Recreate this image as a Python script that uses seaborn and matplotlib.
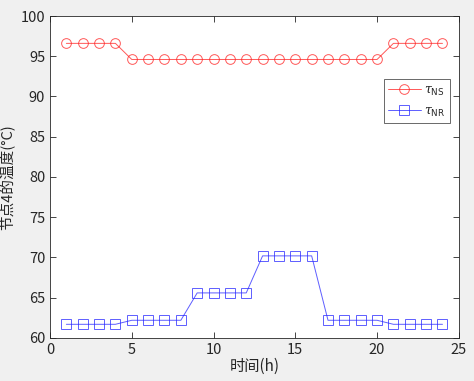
import numpy as np
import pandas as pd
import matplotlib
matplotlib.use('Agg')
import matplotlib.pyplot as plt
import seaborn as sns

# data
hours = list(range(1, 25))
tau_ns = [96.6, 96.6, 96.6, 96.6, 94.6, 94.6, 94.6, 94.6, 94.6, 94.6, 94.6, 94.6,
          94.6, 94.6, 94.6, 94.6, 94.6, 94.6, 94.6, 94.6, 96.6, 96.6, 96.6, 96.6]
tau_nr = [61.7, 61.7, 61.7, 61.7, 62.2, 62.2, 62.2, 62.2, 65.6, 65.6, 65.6, 65.6,
          70.2, 70.2, 70.2, 70.2, 62.2, 62.2, 62.2, 62.2, 61.7, 61.7, 61.7, 61.7]
x_ticks = [0, 5, 10, 15, 20, 25]
y_ticks = [60, 65, 70, 75, 80, 85, 90, 95, 100]
colors = ['#ff2020', '#2828ff']

sns.set_style('ticks')
plt.rcParams['font.family'] = ['Noto Sans CJK SC', 'DejaVu Sans']
plt.rcParams['mathtext.fontset'] = 'custom'
plt.rcParams['mathtext.it'] = 'DejaVu Serif:italic'
plt.rcParams['mathtext.rm'] = 'DejaVu Sans'

df = pd.DataFrame({'hour': hours, 'ns': tau_ns, 'nr': tau_nr})

fig = plt.figure(figsize=(4.74, 3.81), dpi=100, facecolor='#f0f0f0')
ax = fig.add_axes([0.1055, 0.1129, 0.8625, 0.8451])
ax.set_facecolor('white')

sns.lineplot(data=df, x='hour', y='ns', ax=ax, color=colors[0], lw=0.7,
             marker='o', markersize=7, label=r'$\mathit{\tau}_{\mathrm{NS}}$')
sns.lineplot(data=df, x='hour', y='nr', ax=ax, color=colors[1], lw=0.7,
             marker='s', markersize=6.5, label=r'$\mathit{\tau}_{\mathrm{NR}}$')

# hollow markers in the line colour
for ln, c in zip(ax.lines, colors):
    ln.set_markerfacecolor('none')
    ln.set_markeredgecolor(c)
    ln.set_markeredgewidth(0.7)
    ln.set_alpha(0.75)

ax.set_xlim(0, 25)
ax.set_ylim(60, 100)
ax.set_xticks(x_ticks)
ax.set_yticks(y_ticks)
ax.tick_params(direction='in', top=True, right=True, labelsize=10.5,
               colors='#262626', width=0.6, length=4)
for s in ax.spines.values():
    s.set_linewidth(0.6)
    s.set_color('#262626')

ax.set_xlabel('时间(h)', fontsize=11, color='#262626', labelpad=1)
ax.set_ylabel('节点4的温度(°C)', fontsize=10.5, color='#262626')
ax.yaxis.set_label_coords(-0.085, 0.5)

leg = ax.legend(loc='upper right', bbox_to_anchor=(0.978, 0.804), fontsize=9,
                frameon=True, fancybox=False, edgecolor='#262626',
                handlelength=2.6, borderpad=0.35, labelspacing=0.55,
                borderaxespad=0, handletextpad=0.3)
leg.get_frame().set_linewidth(0.6)
for h, c in zip(leg.get_lines(), colors):
    h.set_markerfacecolor('none')
    h.set_markeredgecolor(c)
    h.set_markeredgewidth(0.7)
    h.set_alpha(0.75)

fig.savefig('out.png', dpi=100, facecolor=fig.get_facecolor())
